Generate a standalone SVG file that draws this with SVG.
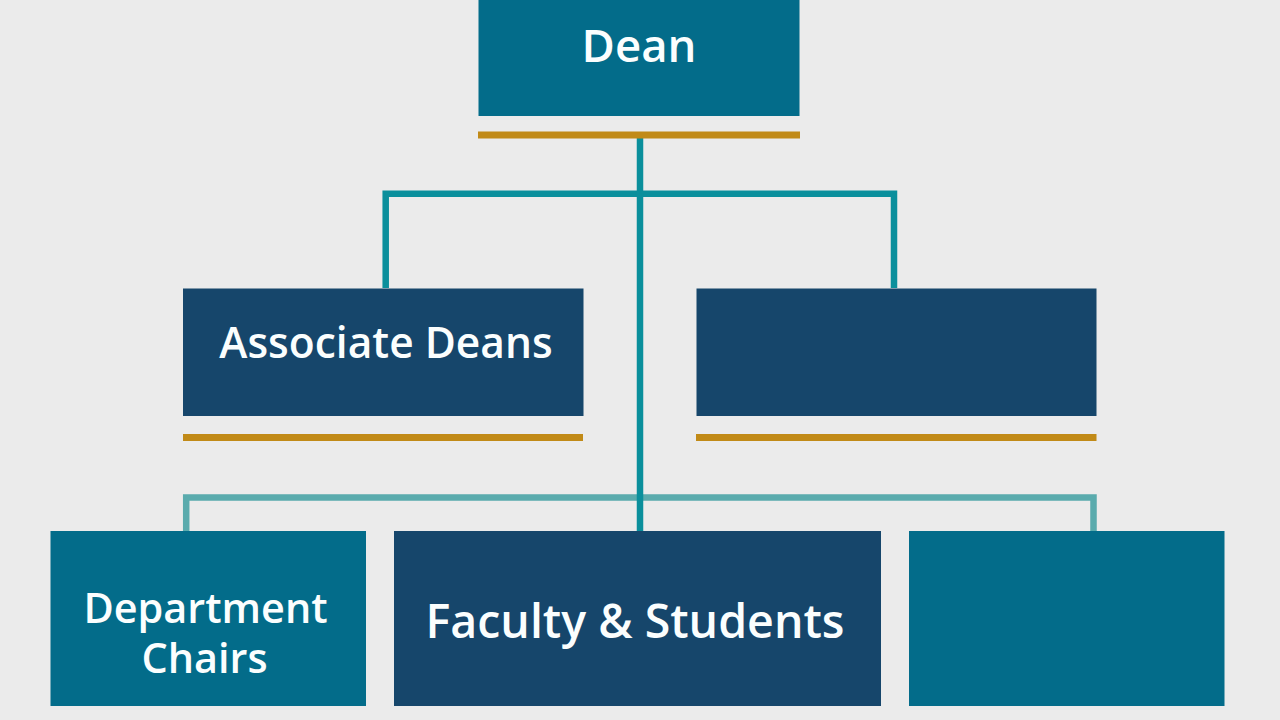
<svg xmlns="http://www.w3.org/2000/svg" width="1280" height="720" viewBox="0 0 1280 720">
<style>
.teal{fill:#036c8a}
.navy{fill:#16466b}
.gold{fill:#c18a17}
.t{font-family:"Open Sans","Noto Sans","Liberation Sans",sans-serif;font-weight:600;fill:#fbfefe;text-anchor:middle}
.c1{fill:none;stroke:#0a8f9c;stroke-width:6.500}
.c2{fill:none;stroke:#5aabad;stroke-width:6.500}
</style>
<rect width="1280" height="720" fill="#ebebeb"/>
<g id="connectors">
<path class="c2" d="M186.200 531V497.500H1093.500V531"/>
<path class="c1" d="M385.700 288V193.700H894V288"/>
<path class="c1" d="M640 138V531"/>
</g>
<g id="dean"><rect class="teal" x="478.500" y="-2" width="321" height="118"/><rect class="gold" x="478" y="131.500" width="322" height="7"/><text class="t" x="639" y="62" font-size="45.500">Dean</text></g>
<g id="associate-deans"><rect class="navy" x="183" y="288.500" width="400.500" height="127.500"/><rect class="gold" x="183" y="434" width="400" height="7"/><text class="t" x="386" y="358" font-size="42.500">Associate Deans</text></g>
<g id="blank-dean"><rect class="navy" x="696.500" y="288.500" width="400" height="127.500"/><rect class="gold" x="696" y="434" width="400.500" height="7"/></g>
<g id="department-chairs"><rect class="teal" x="50.500" y="531" width="315.500" height="175"/><text class="t" font-size="41.400"><tspan x="205.500" y="623">Department</tspan><tspan x="204.500" y="673">Chairs</tspan></text></g>
<g id="faculty-students"><rect class="navy" x="394" y="531" width="487" height="175"/><text class="t" x="635" y="638" font-size="46.500">Faculty &amp; Students</text></g>
<g id="blank-teal"><rect class="teal" x="909" y="531" width="315.500" height="175"/></g>
</svg>
